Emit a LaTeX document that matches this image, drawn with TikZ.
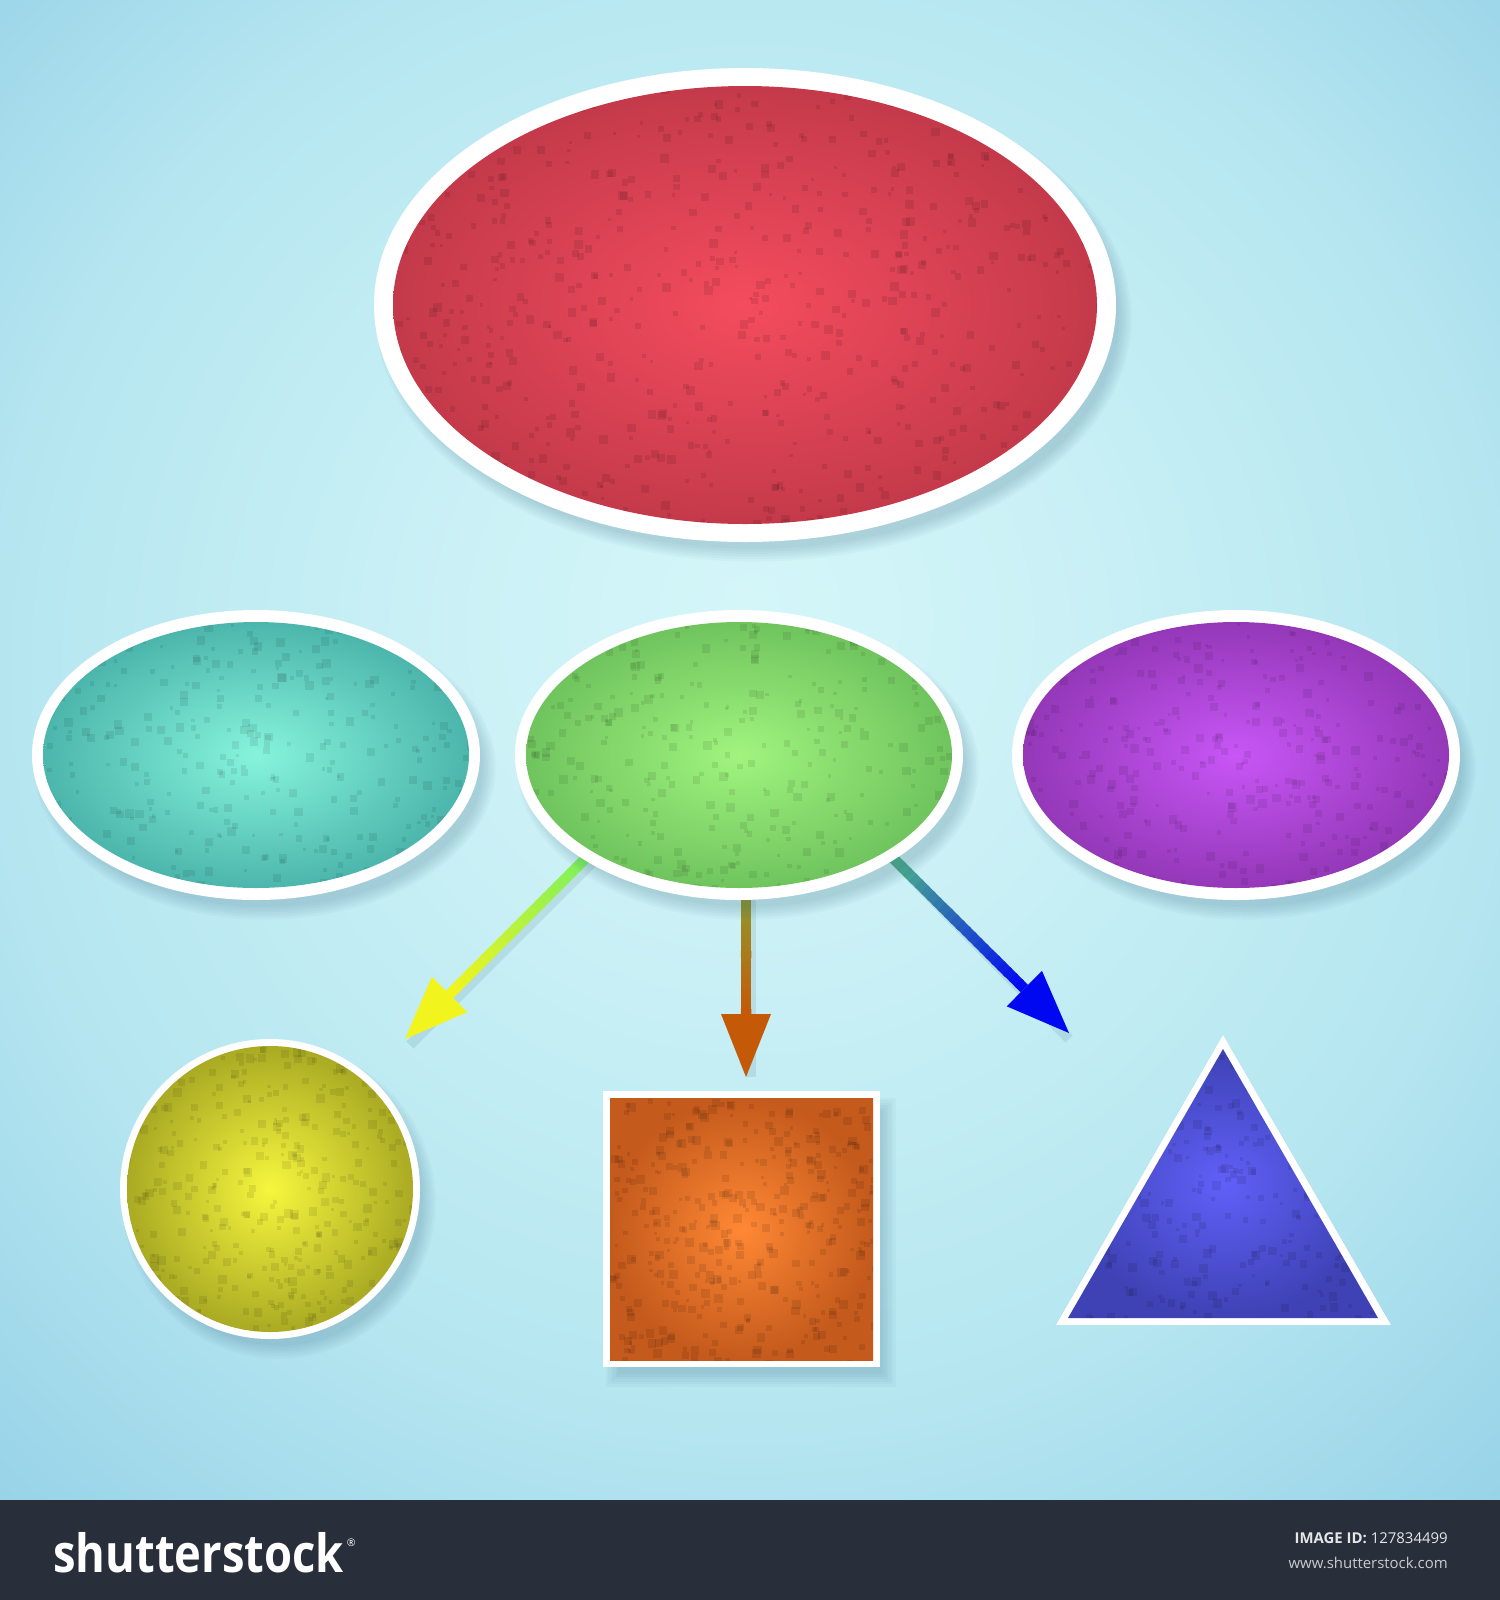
\documentclass[tikz,border=0pt]{standalone}
\usepackage{fontspec}
\setmainfont{Open Sans}
\usetikzlibrary{calc}
\definecolor{bgA}{HTML}{D4F6F9}
\definecolor{bgAB}{HTML}{CBF1F6}
\definecolor{bgB}{HTML}{B5E6F0}
\definecolor{bgC}{HTML}{94D0E7}
\definecolor{footerc}{HTML}{282E3A}
\definecolor{shadowc}{HTML}{30607A}
\definecolor{redin}{HTML}{F44C5E}\definecolor{redout}{HTML}{C43A4A}
\definecolor{tealin}{HTML}{86F4DC}\definecolor{tealout}{HTML}{4CB6AC}
\definecolor{grnin}{HTML}{A0F47E}\definecolor{grnout}{HTML}{70C45E}
\definecolor{purin}{HTML}{C856F6}\definecolor{purout}{HTML}{9438B8}
\definecolor{yelin}{HTML}{F6F63E}\definecolor{yelout}{HTML}{AAAA24}
\definecolor{orin}{HTML}{FF8834}\definecolor{orout}{HTML}{C45A1C}
\definecolor{bluin}{HTML}{6060F8}\definecolor{bluout}{HTML}{3E42B4}
\definecolor{arLa}{HTML}{74F062}\definecolor{arLb}{HTML}{F2F41E}
\definecolor{arMa}{HTML}{8C9E30}\definecolor{arMb}{HTML}{C45A08}
\definecolor{arRa}{HTML}{52C282}\definecolor{arRb}{HTML}{0008F2}
\pgfdeclareradialshading{bgshade}{\pgfpoint{0bp}{5bp}}{color(0bp)=(bgA); color(10bp)=(bgAB); color(25bp)=(bgB); color(38bp)=(bgC); color(50bp)=(bgC)}
\newfontfamily\logofont{Open Sans}
\newcommand\speck[5]{\foreach \k in {1,...,#5}{\pgfmathsetmacro\sx{#1+rnd*#3}\pgfmathsetmacro\sy{#2+rnd*#4}\pgfmathsetmacro\ss{3+6*rnd}\fill (\sx,\sy) rectangle ++(\ss,\ss);}}
\newcommand\eshadow[3]{\foreach \k in {0,...,5}{\fill[shadowc, opacity=0.04] ($(#1)+(9,13)$) ellipse [x radius=#2+\k*2.5-6, y radius=#3+\k*2.5-6];}}
\newcommand\gradarrow[4]{%
  \coordinate (hb) at ($(#2)!1.26cm!(#1)$);
  \foreach \i in {0,...,23}{\pgfmathsetmacro\ta{\i/24}\pgfmathsetmacro\tb{min(1,(\i+1.3)/24)}\pgfmathsetmacro\pc{100-100*\i/23}
    \draw[line width=0.21cm, color=#3!\pc!#4] ($(#1)!\ta!(hb)$) -- ($(#1)!\tb!(hb)$);}
  \fill[#4] (#2) -- ($(hb)!0.5cm!90:(#2)$) -- ($(hb)!0.5cm!-90:(#2)$) -- cycle;}
\begin{document}
\begin{tikzpicture}[x=0.02cm,y=-0.02cm]
\useasboundingbox (0,0) rectangle (1500,1600);
\pgfmathsetseed{7}
% background
\shade[shading=bgshade] (0,0) rectangle (1500,1500);
\fill[footerc] (0,1500) rectangle (1500,1600);
% centers
\coordinate (red) at (745,305);
\coordinate (teal) at (256,755);
\coordinate (grn) at (739,755);
\coordinate (pur) at (1236,755);
\coordinate (yel) at (270,1189);
% red ellipse
\eshadow{red}{371}{237}
\fill[white] (red) ellipse [x radius=371, y radius=237];
\begin{scope}
\clip (red) ellipse [x radius=352, y radius=219];
\shade[inner color=redin, outer color=redout] (red) ellipse [x radius=352, y radius=219];
\begin{scope}[black, opacity=0.09]\speck{393}{86}{704}{438}{650}\end{scope}
\end{scope}
% arrows (under the green ellipse)
\coordinate (la0) at (596,848); \coordinate (la1) at (405,1039);
\coordinate (ma0) at (746,888); \coordinate (ma1) at (746,1077);
\coordinate (ra0) at (883,848); \coordinate (ra1) at (1069,1033);
\begin{scope}[shadowc, opacity=0.12]
\draw[line width=0.2cm] ($(la0)+(5,6)$) -- ($(la1)+(5,6)$);
\draw[line width=0.2cm] ($(ma0)+(5,6)$) -- ($(ma1)+(5,0)$);
\draw[line width=0.2cm] ($(ra0)+(5,6)$) -- ($(ra1)+(0,6)$);
\end{scope}
\gradarrow{la0}{la1}{arLa}{arLb}
\gradarrow{ma0}{ma1}{arMa}{arMb}
\gradarrow{ra0}{ra1}{arRa}{arRb}
% middle row ellipses
\foreach \c/\ci/\co in {teal/tealin/tealout, grn/grnin/grnout, pur/purin/purout}{
  \eshadow{\c}{224}{145}
  \fill[white] (\c) ellipse [x radius=224, y radius=145];
  \begin{scope}
  \clip (\c) ellipse [x radius=213, y radius=133];
  \shade[inner color=\ci, outer color=\co] (\c) ellipse [x radius=213, y radius=133];
  \begin{scope}[black, opacity=0.08, shift={(\c)}]\speck{-213}{-133}{426}{266}{320}\end{scope}
  \end{scope}
}
% yellow circle
\eshadow{yel}{150}{150}
\fill[white] (yel) circle [radius=150];
\begin{scope}
\clip (yel) circle [radius=143];
\shade[inner color=yelin, outer color=yelout] (yel) circle [radius=143];
\begin{scope}[black, opacity=0.08]\speck{127}{1046}{286}{286}{380}\end{scope}
\end{scope}
% orange square
\coordinate (sqa) at (603,1091); \coordinate (sqb) at (880,1367);
\foreach \k in {0,...,5}{\fill[shadowc, opacity=0.04] ($(sqa)+(15-\k*2.5,19-\k*2.5)$) rectangle ($(sqb)+(3+\k*2.5,7+\k*2.5)$);}
\fill[white] (sqa) rectangle (sqb);
\begin{scope}
\clip ($(sqa)+(7,7)$) rectangle ($(sqb)+(-7,-7)$);
\shade[inner color=orin, outer color=orout] ($(sqa)+(7,7)$) rectangle ($(sqb)+(-7,-7)$);
\begin{scope}[black, opacity=0.09]\speck{610}{1098}{263}{263}{380}\end{scope}
\end{scope}
% blue triangle
\coordinate (ta) at (1223,1035); \coordinate (tb) at (1056,1325); \coordinate (tc) at (1391,1325);
\coordinate (ia) at (1223,1049); \coordinate (ib) at (1068,1318); \coordinate (ic) at (1378,1318);
\foreach \k in {0,...,5}{\fill[shadowc, opacity=0.04, shift={(10,12)}] ($(ta)+(0,14-\k*3)$) -- ($(tb)+(12-\k*2.6,-7+\k*1.5)$) -- ($(tc)+(-12+\k*2.6,-7+\k*1.5)$) -- cycle;}
\fill[white] (ta) -- (tb) -- (tc) -- cycle;
\begin{scope}
\clip (ia) -- (ib) -- (ic) -- cycle;
\shade[inner color=bluin, outer color=bluout] (ia) -- (ib) -- (ic) -- cycle;
\begin{scope}[black, opacity=0.09]\speck{1068}{1049}{310}{270}{300}\end{scope}
\end{scope}
% footer texts
\node[anchor=base west, inner sep=0, text=white, font=\logofont\bfseries\fontsize{30}{30}\selectfont] (logo) at (53,1572) {\scalebox{0.86}[1]{shutterstock}};
\node[anchor=center, inner sep=0, text=white, font=\fontsize{6}{6}\selectfont] (reg) at ($(logo.base east)+(7,-29)$) {®};
\node[anchor=east, inner sep=0, text=white!88!footerc, font=\fontsize{8.5}{9}\selectfont] (imgid) at (1448,1538) {\textbf{IMAGE ID:} 127834499};
\node[anchor=east, inner sep=0, text=white!75!footerc, font=\fontsize{8.5}{9}\selectfont] (url) at (1448,1563) {www.shutterstock.com};
\end{tikzpicture}
\end{document}
